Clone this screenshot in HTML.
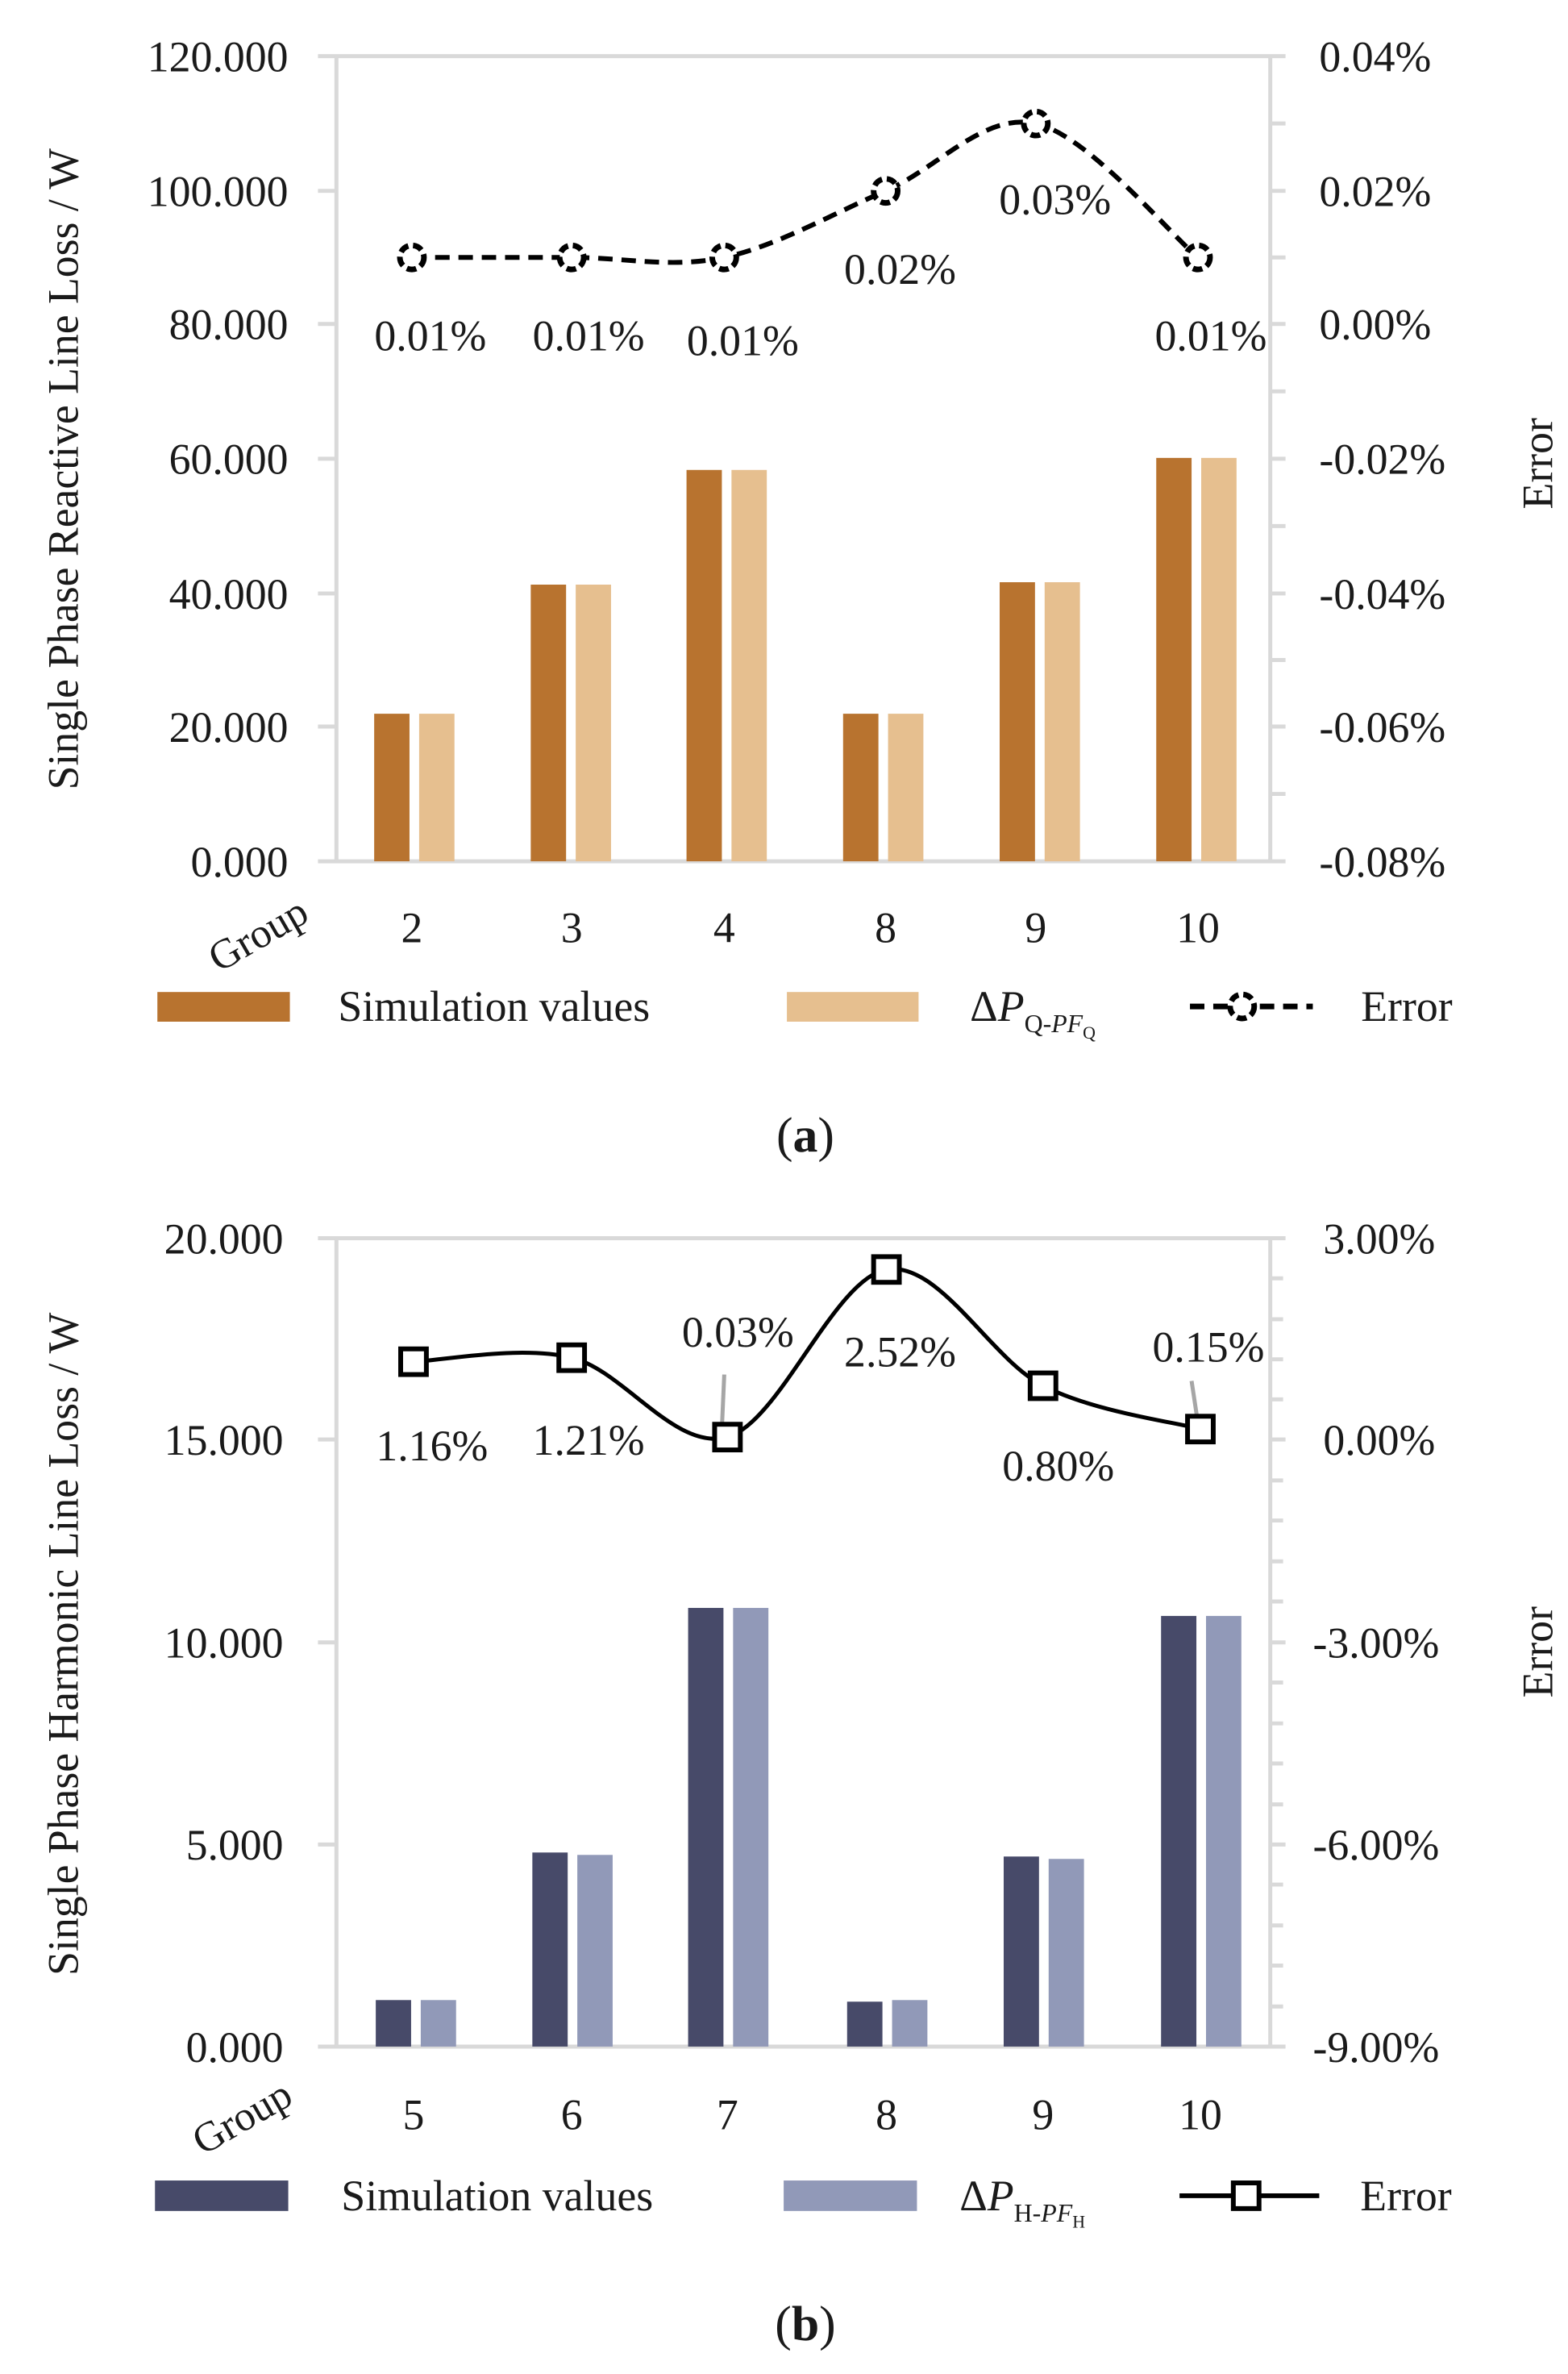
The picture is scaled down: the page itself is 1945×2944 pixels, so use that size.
<!DOCTYPE html>
<html><head><meta charset="utf-8"><style>
html,body{margin:0;padding:0;background:#fff;}
svg{display:block;}
text{font-family:"Liberation Serif",serif;fill:#1a1a1a;}
</style></head><body>
<svg width="1945" height="2944" viewBox="0 0 1945 2944" xmlns="http://www.w3.org/2000/svg">
<g transform="scale(0.996,0.9945)">
<!-- ========== Chart A ========== -->
<g stroke="#d9d9d9" stroke-width="5" fill="none">
<line x1="396" y1="70" x2="1601" y2="70"/>
<line x1="396" y1="1074" x2="1601" y2="1074"/>
<line x1="419" y1="70" x2="419" y2="1074"/>
<line x1="1582" y1="70" x2="1582" y2="1074"/>
<line x1="396" y1="238" x2="419" y2="238"/><line x1="396" y1="404" x2="419" y2="404"/><line x1="396" y1="572" x2="419" y2="572"/><line x1="396" y1="740" x2="419" y2="740"/><line x1="396" y1="906" x2="419" y2="906"/>
<line x1="1582" y1="154" x2="1601" y2="154"/><line x1="1582" y1="238" x2="1601" y2="238"/><line x1="1582" y1="321" x2="1601" y2="321"/><line x1="1582" y1="404" x2="1601" y2="404"/><line x1="1582" y1="488" x2="1601" y2="488"/><line x1="1582" y1="572" x2="1601" y2="572"/><line x1="1582" y1="656" x2="1601" y2="656"/><line x1="1582" y1="740" x2="1601" y2="740"/><line x1="1582" y1="823" x2="1601" y2="823"/><line x1="1582" y1="906" x2="1601" y2="906"/><line x1="1582" y1="990" x2="1601" y2="990"/>
</g>
<g font-size="54" text-anchor="end">
<text x="359" y="89">120.000</text><text x="359" y="257">100.000</text><text x="359" y="423">80.000</text><text x="359" y="591">60.000</text><text x="359" y="759">40.000</text><text x="359" y="925">20.000</text><text x="359" y="1093">0.000</text>
</g>
<g font-size="54">
<text x="1643" y="89">0.04%</text><text x="1643" y="257">0.02%</text><text x="1643" y="423">0.00%</text><text x="1643" y="591">-0.02%</text><text x="1643" y="759">-0.04%</text><text x="1643" y="925">-0.06%</text><text x="1643" y="1093">-0.08%</text>
</g>
<text font-size="54" transform="translate(97,585) rotate(-90)" text-anchor="middle">Single Phase Reactive Line Loss / W</text>
<text font-size="54" transform="translate(1933,578) rotate(-90)" text-anchor="middle">Error</text>
<g fill="#b8732f">
<rect x="466" y="890" width="44" height="184"/><rect x="661" y="729" width="44" height="345"/><rect x="855" y="586" width="44" height="488"/><rect x="1050" y="890" width="44" height="184"/><rect x="1245" y="726" width="44" height="348"/><rect x="1440" y="571" width="44" height="503"/>
</g>
<g fill="#e6bf8f">
<rect x="522" y="890" width="44" height="184"/><rect x="717" y="729" width="44" height="345"/><rect x="911" y="586" width="44" height="488"/><rect x="1106" y="890" width="44" height="184"/><rect x="1301" y="726" width="44" height="348"/><rect x="1496" y="571" width="44" height="503"/>
</g>
<g font-size="54" text-anchor="middle">
<text x="513" y="1175">2</text><text x="712" y="1175">3</text><text x="902" y="1175">4</text><text x="1103" y="1175">8</text><text x="1290" y="1175">9</text><text x="1492" y="1175">10</text>
</g>
<text font-size="52" transform="translate(330,1180) rotate(-30)" text-anchor="middle">Group</text>
<path d="M513,321 C546,321 647,321 712,321 C777,321 837,335 902,321 C967,307 1038,266 1103,238 C1168,210 1225,140 1290,154 C1355,168 1458,293 1492,321" fill="none" stroke="#000" stroke-width="6" stroke-dasharray="18,11"/>
<g fill="#fff" stroke="#000" stroke-width="7" stroke-dasharray="12,6">
<circle cx="513" cy="321" r="15"/><circle cx="712" cy="321" r="15"/><circle cx="902" cy="321" r="15"/><circle cx="1103" cy="238" r="15"/><circle cx="1290" cy="154" r="15"/><circle cx="1492" cy="321" r="15"/>
</g>
<g font-size="54" text-anchor="middle">
<text x="536" y="437">0.01%</text><text x="733" y="437">0.01%</text><text x="925" y="443">0.01%</text><text x="1121" y="354">0.02%</text><text x="1314" y="267">0.03%</text><text x="1508" y="437">0.01%</text>
</g>
<rect x="196" y="1237" width="165" height="37" fill="#b8732f"/>
<text x="421" y="1273" font-size="54">Simulation values</text>
<rect x="980" y="1237" width="164" height="37" fill="#e6bf8f"/>
<text x="1208" y="1273" font-size="54">Δ<tspan font-style="italic">P</tspan><tspan font-size="32" dy="14">Q-</tspan><tspan font-size="32" font-style="italic">PF</tspan><tspan font-size="22" dy="8">Q</tspan></text>
<line x1="1482" y1="1255" x2="1635" y2="1255" stroke="#000" stroke-width="7" stroke-dasharray="18,11"/>
<circle cx="1547" cy="1255" r="15" fill="#fff" stroke="#000" stroke-width="7" stroke-dasharray="12,6"/>
<text x="1695" y="1273" font-size="54">Error</text>
<text x="1003" y="1436" font-size="62" text-anchor="middle">(<tspan font-weight="bold">a</tspan>)</text>

<!-- ========== Chart B ========== -->
<g stroke="#d9d9d9" stroke-width="5" fill="none">
<line x1="396" y1="1544" x2="1601" y2="1544"/>
<line x1="396" y1="2552" x2="1601" y2="2552"/>
<line x1="419" y1="1544" x2="419" y2="2552"/>
<line x1="1582" y1="1544" x2="1582" y2="2552"/>
<line x1="396" y1="1795" x2="419" y2="1795"/><line x1="396" y1="2048" x2="419" y2="2048"/><line x1="396" y1="2300" x2="419" y2="2300"/>
<line x1="1582" y1="1594" x2="1598" y2="1594"/><line x1="1582" y1="1645" x2="1598" y2="1645"/><line x1="1582" y1="1695" x2="1598" y2="1695"/><line x1="1582" y1="1745" x2="1598" y2="1745"/><line x1="1582" y1="1795" x2="1601" y2="1795"/><line x1="1582" y1="1846" x2="1598" y2="1846"/><line x1="1582" y1="1896" x2="1598" y2="1896"/><line x1="1582" y1="1947" x2="1598" y2="1947"/><line x1="1582" y1="1997" x2="1598" y2="1997"/><line x1="1582" y1="2048" x2="1601" y2="2048"/><line x1="1582" y1="2098" x2="1598" y2="2098"/><line x1="1582" y1="2149" x2="1598" y2="2149"/><line x1="1582" y1="2199" x2="1598" y2="2199"/><line x1="1582" y1="2250" x2="1598" y2="2250"/><line x1="1582" y1="2300" x2="1601" y2="2300"/><line x1="1582" y1="2350" x2="1598" y2="2350"/><line x1="1582" y1="2401" x2="1598" y2="2401"/><line x1="1582" y1="2451" x2="1598" y2="2451"/><line x1="1582" y1="2502" x2="1598" y2="2502"/>
</g>
<g font-size="54" text-anchor="end">
<text x="353" y="1563">20.000</text><text x="353" y="1814">15.000</text><text x="353" y="2067">10.000</text><text x="353" y="2319">5.000</text><text x="353" y="2571">0.000</text>
</g>
<g font-size="54">
<text x="1648" y="1563">3.00%</text><text x="1648" y="1814">0.00%</text><text x="1635" y="2067">-3.00%</text><text x="1635" y="2319">-6.00%</text><text x="1635" y="2571">-9.00%</text>
</g>
<text font-size="54" transform="translate(97,2050) rotate(-90)" text-anchor="middle">Single Phase Harmonic Line Loss / W</text>
<text font-size="54" transform="translate(1933,2060) rotate(-90)" text-anchor="middle">Error</text>
<g fill="#474a69">
<rect x="468" y="2494" width="44" height="58"/><rect x="663" y="2310" width="44" height="242"/><rect x="857" y="2005" width="44" height="547"/><rect x="1055" y="2496" width="44" height="56"/><rect x="1250" y="2315" width="44" height="237"/><rect x="1446" y="2015" width="44" height="537"/>
</g>
<g fill="#9199b8">
<rect x="524" y="2494" width="44" height="58"/><rect x="719" y="2313" width="44" height="239"/><rect x="913" y="2005" width="44" height="547"/><rect x="1111" y="2494" width="44" height="58"/><rect x="1306" y="2318" width="44" height="234"/><rect x="1502" y="2015" width="44" height="537"/>
</g>
<g font-size="54" text-anchor="middle">
<text x="515" y="2655">5</text><text x="712" y="2655">6</text><text x="906" y="2655">7</text><text x="1104" y="2655">8</text><text x="1299" y="2655">9</text><text x="1495" y="2655">10</text>
</g>
<text font-size="52" transform="translate(310,2655) rotate(-30)" text-anchor="middle">Group</text>
<g stroke="#a6a6a6" stroke-width="5"><line x1="902" y1="1714" x2="899" y2="1782"/><line x1="1484" y1="1722" x2="1492" y2="1775"/></g>
<path d="M515,1698 C548,1697 647,1677 712,1693 C777,1709 841,1810 906,1792 C971,1774 1039,1594 1104,1583 C1170,1572 1234,1695 1299,1728 C1364,1761 1462,1773 1495,1782" fill="none" stroke="#000" stroke-width="5"/>
<g fill="#fff" stroke="#000" stroke-width="6">
<rect x="499" y="1682" width="32" height="32"/><rect x="696" y="1677" width="32" height="32"/><rect x="890" y="1776" width="32" height="32"/><rect x="1088" y="1567" width="32" height="32"/><rect x="1283" y="1712" width="32" height="32"/><rect x="1479" y="1766" width="32" height="32"/>
</g>
<g font-size="54" text-anchor="middle">
<text x="538" y="1821">1.16%</text><text x="733" y="1814">1.21%</text><text x="919" y="1679">0.03%</text><text x="1121" y="1704">2.52%</text><text x="1318" y="1846">0.80%</text><text x="1505" y="1698">0.15%</text>
</g>
<rect x="193" y="2719" width="166" height="38" fill="#474a69"/>
<text x="425" y="2756" font-size="54">Simulation values</text>
<rect x="976" y="2719" width="166" height="38" fill="#9199b8"/>
<text x="1195" y="2756" font-size="54">Δ<tspan font-style="italic">P</tspan><tspan font-size="32" dy="14">H-</tspan><tspan font-size="32" font-style="italic">PF</tspan><tspan font-size="22" dy="8">H</tspan></text>
<line x1="1469" y1="2738" x2="1643" y2="2738" stroke="#000" stroke-width="6"/>
<rect x="1536" y="2722" width="32" height="32" fill="#fff" stroke="#000" stroke-width="6"/>
<text x="1694" y="2756" font-size="54">Error</text>
<text x="1003" y="2918" font-size="62" text-anchor="middle">(<tspan font-weight="bold">b</tspan>)</text>
</g>
</svg>
</body></html>
